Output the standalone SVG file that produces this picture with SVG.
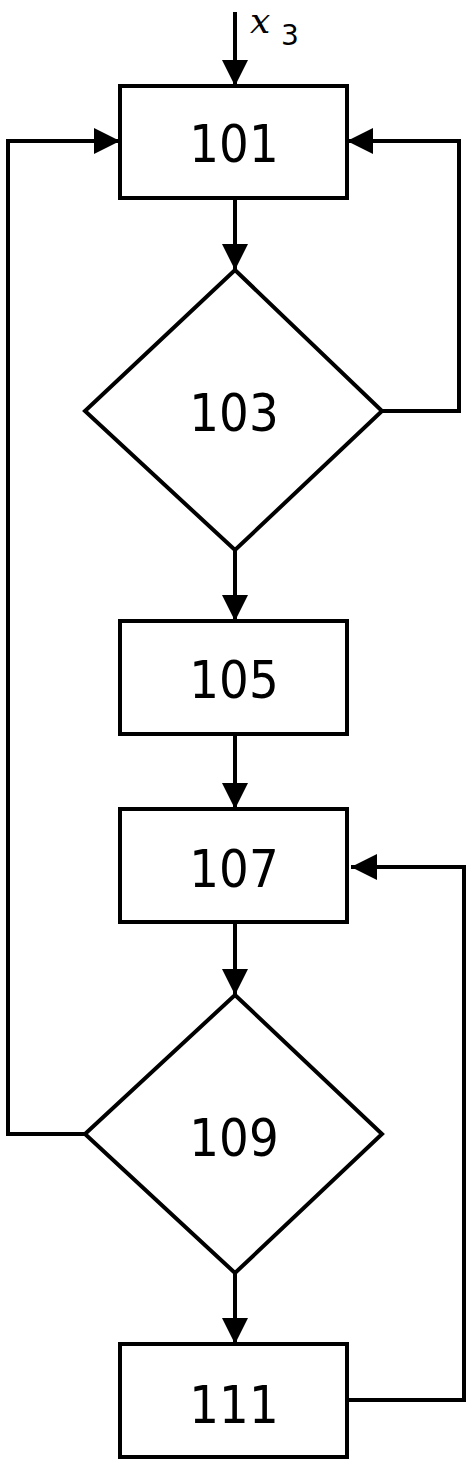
<svg xmlns="http://www.w3.org/2000/svg" width="474" height="1466" viewBox="0 0 474 1466">
<style>
.n{fill:#fff;stroke:#000;stroke-width:4}
.c{fill:none;stroke:#000;stroke-width:4;marker-end:url(#ah)}
.t{font-family:"DejaVu Sans Condensed","DejaVu Sans",sans-serif;font-size:52px;text-anchor:middle;fill:#000}
</style>
<defs>
<marker id="ah" markerUnits="userSpaceOnUse" markerWidth="26" markerHeight="26" refX="26" refY="13" orient="auto">
<path d="M0,0 L26,13 L0,26 z" fill="#000"/>
</marker>
</defs>
<rect width="474" height="1466" fill="#fff"/>
<g id="connectors">
<path class="c" d="M235,12 V86"/>
<path class="c" d="M235,198 V270"/>
<path class="c" d="M382,411 H459 V141 H347"/>
<path class="c" d="M235,550 V621"/>
<path class="c" d="M235,734 V809"/>
<path class="c" d="M235,922 V995"/>
<path class="c" d="M85,1134 H8 V141 H120"/>
<path class="c" d="M235,1273 V1344"/>
<path class="c" d="M347,1400 H464 V867 H351"/>
</g>
<g id="label-x3">
<text x="250" y="33" font-family="DejaVu Serif,serif" font-style="italic" font-size="36">x</text>
<text x="281" y="45" font-family="DejaVu Sans,sans-serif" font-size="28">3</text>
</g>
<g id="n101"><rect class="n" x="120" y="86" width="227" height="112"/><text class="t" x="234" y="162">101</text></g>
<g id="n103"><path class="n" d="M235,270 L382,411 L235,550 L85,411 Z"/><text class="t" x="234" y="431">103</text></g>
<g id="n105"><rect class="n" x="120" y="621" width="227" height="113"/><text class="t" x="234" y="698">105</text></g>
<g id="n107"><rect class="n" x="120" y="809" width="227" height="113"/><text class="t" x="234" y="887">107</text></g>
<g id="n109"><path class="n" d="M235,995 L382,1134 L235,1273 L85,1134 Z"/><text class="t" x="234" y="1156">109</text></g>
<g id="n111"><rect class="n" x="120" y="1344" width="227" height="113"/><text class="t" x="234" y="1423">111</text></g>
</svg>
